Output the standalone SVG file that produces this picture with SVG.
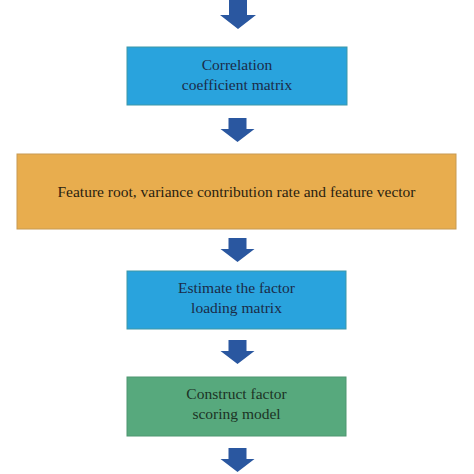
<svg xmlns="http://www.w3.org/2000/svg" width="474" height="474" viewBox="0 0 474 474">
<defs>
<style>
.bg{fill:#ffffff}
.blue{fill:#29A3DD;stroke:#3D97A8;stroke-width:1}
.orange{fill:#E8AD4E;stroke:#C79A52;stroke-width:1}
.green{fill:#57A97D;stroke:#4E9670;stroke-width:1}
.arrow{fill:#2A57A0}
text{font-family:"Liberation Serif","Times New Roman",serif;font-size:15.5px;text-anchor:middle}
.tb{fill:#1B2B48}
.to{fill:#2A1E10}
.tg{fill:#1C3325}
</style>
<path id="arr" d="M-9,0 H9 V11 H17 L0,24 L-17,11 H-9 Z"/>
</defs>
<rect class="bg" width="474" height="474"/>
<g id="connectors">
<path class="arrow" d="M229,0 H247 V15 H256 L238,29 L220,15 H229 Z"/>
<use class="arrow" href="#arr" x="237.5" y="118"/>
<use class="arrow" href="#arr" x="237.5" y="238"/>
<use class="arrow" href="#arr" x="237.5" y="340"/>
<use class="arrow" href="#arr" x="237.5" y="448"/>
</g>
<g id="node-correlation">
<rect class="blue" x="127" y="47" width="220" height="58"/>
<text class="tb" x="237" y="70">Correlation</text>
<text class="tb" x="237" y="90">coefficient matrix</text>
</g>
<g id="node-feature">
<rect class="orange" x="17" y="154" width="439" height="75"/>
<text class="to" x="236.5" y="197">Feature root, variance contribution rate and feature vector</text>
</g>
<g id="node-estimate">
<rect class="blue" x="127" y="271" width="219" height="58"/>
<text class="tb" x="236.5" y="293">Estimate the factor</text>
<text class="tb" x="236.5" y="313">loading matrix</text>
</g>
<g id="node-construct">
<rect class="green" x="127" y="377" width="219" height="59"/>
<text class="tg" x="236.5" y="399">Construct factor</text>
<text class="tg" x="236.5" y="419">scoring model</text>
</g>
</svg>
